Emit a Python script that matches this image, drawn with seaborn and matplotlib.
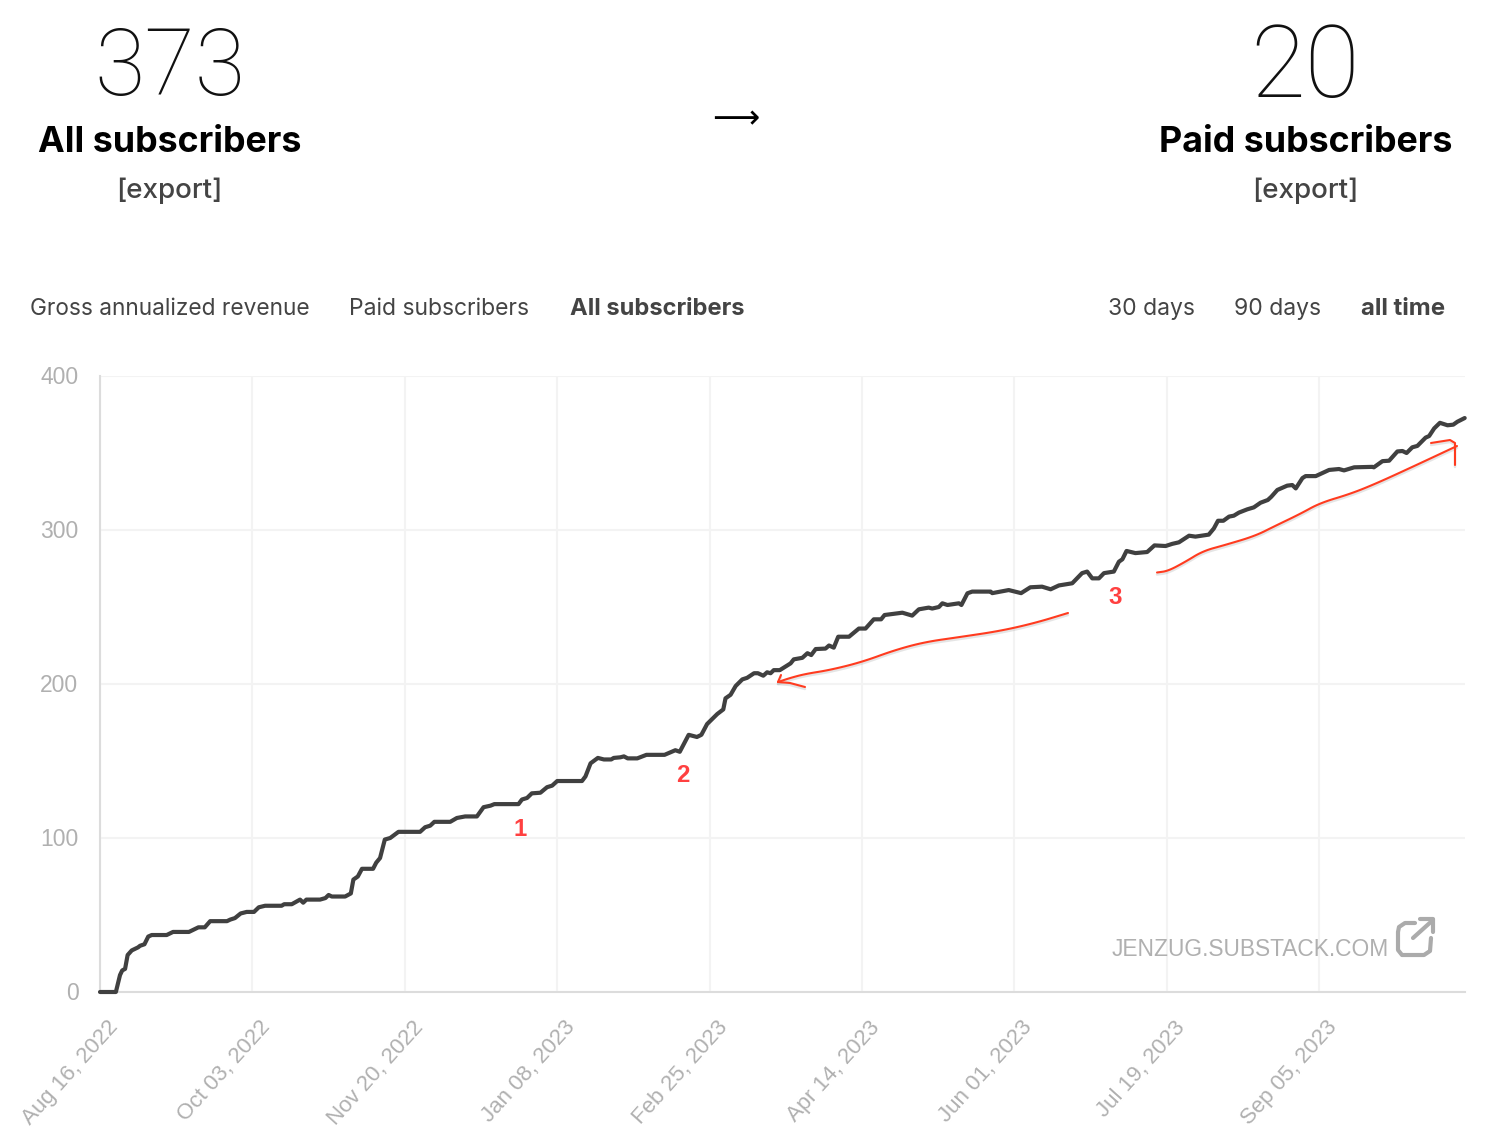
import numpy as np
import pandas as pd
import matplotlib
matplotlib.use("Agg")
import matplotlib.pyplot as plt
from matplotlib.transforms import ScaledTranslation
import seaborn as sns

days = [0,5,6.3,7,7.9,8.7,10,12,12.6,14,15.2,16.3,21,23,28,31,33,34.7,40,41,42.5,44.3,46.2,48.5,50,52,57.2,58,60.4,63,64,65,69.3,71,72,73,77.2,79,79.8,81.2,82.5,86,87,88.2,89.7,91.4,94,100.8,102.4,104,105.3,110.3,112.4,115,118.7,120.8,123,124.2,131.8,132.9,134.5,136,138.7,140.8,142.4,144,151.8,152.9,154.5,156.8,158.7,161,161.8,163.9,165,166.2,169.2,172.1,177.8,181.2,182.6,185.4,188,189.4,191.2,194.4,196.3,197,198.6,200.2,202.3,203.8,206,207.2,208.9,210.1,211.2,212.2,214.1,217.5,218.5,221.2,222.8,224,225.4,228.5,229.6,231.1,232.5,235.9,239,241.1,243.7,246,247.1,252.7,255.8,257.9,261,262.1,264.2,265.3,266.9,270.5,271.3,273.2,274.7,280.5,281,283.6,286.2,290.1,293,296.7,299.4,302,306.2,309.3,310.9,312.5,314.6,316.2,319.3,320.9,322,323.3,326.1,329.8,332.1,335.6,337.7,339.8,343,345,349.2,350.8,352.1,353.8,355.6,357.1,358.7,361.3,363.4,365.5,367.8,368.9,370.8,373.9,375.5,376.6,378.7,379.7,382.9,387.1,390.2,391.8,395,400.7,401.2,403.9,406,408.6,410.2,411.5,413.3,414.9,417.5,418.6,420.2,422,424.4,426.2,427.5,429.8]
subscribers = [0,0,11,14,15,24,27,29,30,31,36,37,37,39,39,42,42,46,46,47,48,51,52,52,55,56,56,57,57,60,58,60,60,61,63,62,62,64,73,75,80,80,84,87,99,100,104,104,107,108,110.5,110.5,113,114,114,120,121,122,122,125,126,129,129.4,133,134,137,137,140,148.5,152,151,151,152,152.4,153,151.7,151.7,154,154,157,156,167,165.6,167,174,180.5,183.5,190.7,193,198.7,203,204,207,207,205.4,207.6,207,209,209,213.4,216,217,220,218.8,222.7,223,225,223.6,230.7,230.7,236,236,242,242,244.8,246.3,244.4,248.5,249.6,249,250,252.4,251.3,252.4,251.3,258.9,260,260,259,260,261,259,262.8,263.2,261.5,264,265.4,272,273,268.6,268.6,272,273,279.4,281,286.4,285,285.7,290,289.6,291,292,296.3,295.7,297,301,306,306,308.7,309.3,311.3,313.4,314.7,317.7,319.5,321.6,326,328.8,329.2,327,333.7,335,335,339,339.6,338.7,340.7,341,340.7,344.7,345,351,351.3,350,353.7,354.6,360,361,366,369.6,368,368.4,370.3,372.7]
tick_days = [0,48,96,144,192,240,288,336,384]
tick_labels = ["Aug 16, 2022","Oct 03, 2022","Nov 20, 2022","Jan 08, 2023","Feb 25, 2023","Apr 14, 2023","Jun 01, 2023","Jul 19, 2023","Sep 05, 2023"]
y_ticks = [0,100,200,300,400]

W, H = 1506, 1136
sns.set_theme(style="whitegrid")
plt.rcParams["font.family"] = ["Liberation Sans", "DejaVu Sans"]
fig = plt.figure(figsize=(W/100, H/100), dpi=100, facecolor="white")
ax = fig.add_axes([100/W, 1-992/H, 1365/W, 616/H])
df = pd.DataFrame({"day": days, "subs": subscribers})
sns.lineplot(data=df, x="day", y="subs", ax=ax, color="#404040", linewidth=3.0, zorder=4, clip_on=False)
ax.set_xlim(0, 429.9); ax.set_ylim(0, 400)
ax.set_xlabel(""); ax.set_ylabel("")
ax.set_xticks(tick_days); ax.set_yticks(y_ticks)
ax.set_xticklabels(tick_labels, rotation=48, ha="right", rotation_mode="anchor")
ax.grid(True, color="#f3f3f3", linewidth=1.5)
ax.tick_params(axis="x", length=8, width=1.4, color="#f3f3f3", labelsize=16, labelcolor="#b0b0b0", pad=10)
ax.tick_params(axis="y", length=10, width=1.4, color="#f3f3f3", labelsize=16.5, labelcolor="#b0b0b0", pad=5.5)
shift = ScaledTranslation(7/100, 0, fig.dpi_scale_trans)
for lab in ax.get_xticklabels():
    lab.set_transform(lab.get_transform() + shift)
for lab in ax.get_yticklabels():
    lab.set_transform(lab.get_transform() + ScaledTranslation(0, 1/100, fig.dpi_scale_trans))
for s in ["top", "right"]:
    ax.spines[s].set_visible(False)
for s in ["left", "bottom"]:
    ax.spines[s].set_color("#dcdcdc"); ax.spines[s].set_linewidth(1.5)

ov = fig.add_axes([0, 0, 1, 1], facecolor="none")
ov.set_xlim(0, W); ov.set_ylim(H, 0); ov.axis("off")

def px(p): return p * 0.72

def smooth(pts, n=3):
    p = np.array(pts, float)
    for _ in range(n):
        q = [p[0]]
        for a, b in zip(p[:-1], p[1:]):
            q += [a*.75 + b*.25, a*.25 + b*.75]
        q.append(p[-1])
        p = np.array(q)
    return p

ov.text(169.5, 70, "373", ha="center", va="center", fontsize=px(92), family=["Roboto"], fontweight=100, color="#111111")
ov.text(1305.5, 70, "20", ha="center", va="center", fontsize=px(100), family=["Roboto"], fontweight=100, color="#111111")
ov.text(169.5, 143, "All subscribers", ha="center", va="center", fontsize=px(35.8), family=["Inter", "Roboto"], fontweight="bold", color="black")
ov.text(1305.5, 143, "Paid subscribers", ha="center", va="center", fontsize=px(35.8), family=["Inter", "Roboto"], fontweight="bold", color="black")
ov.text(169.5, 191, "[export]", ha="center", va="center", fontsize=px(27.8), family=["Inter", "Roboto"], fontweight=500, color="#444444")
ov.text(1305.5, 191, "[export]", ha="center", va="center", fontsize=px(27.8), family=["Inter", "Roboto"], fontweight=500, color="#444444")
ov.text(735.5, 119, "\u27f6", ha="center", va="center", fontsize=px(33), family=["DejaVu Sans"], color="black")

tabs = [(30, "Gross annualized revenue", "normal", 22.7), (349, "Paid subscribers", "normal", 22.9), (570, "All subscribers", "bold", 23.7),
        (1108, "30 days", "normal", 22.9), (1234, "90 days", "normal", 22.9), (1361, "all time", "bold", 24)]
for x, t, w, s in tabs:
    ov.text(x, 309, t, ha="left", va="center", fontsize=px(s), family=["Inter", "Roboto"], fontweight=w, color="#444444")

for x, y, t in [(520.5, 830, "1"), (683, 775, "2"), (1115, 597, "3")]:
    ov.text(x, y, t, ha="center", va="center", fontsize=px(24), family=["Liberation Sans"], fontweight="bold", color="#ff4040")

red1 = [(1068,613),(1035,623),(1000,631),(960,637),(925,642),(895,650),(862,662),(830,670),(805,674),(790,678),(778,682)]
red1b = [(805,687),(790,683),(778,682),(781,675)]
red2 = [(1157,572.5),(1168,571),(1185,562),(1203,551),(1225,545),(1255,536),(1275,526),(1300,514),(1320,503),(1350,494),(1375,484),(1410,468),(1457,446)]
red2b = [(1431,443),(1450,440),(1455,443),(1455,465)]
for pts in [red1, red1b, red2, red2b]:
    q = smooth(pts, 3) if len(pts) > 4 else np.array(pts, float)
    ov.plot(q[:,0], q[:,1]+2, color="#999999", alpha=0.25, lw=1.8, solid_capstyle="round", solid_joinstyle="round")
    ov.plot(q[:,0], q[:,1], color="#ff3b1f", lw=1.5, solid_capstyle="round", solid_joinstyle="round", zorder=5)

ov.text(1389, 949, "JENZUG.SUBSTACK.COM", ha="right", va="center", fontsize=px(22.7), family=["Liberation Sans"], color="#b0b0b0", zorder=6)
icon_box = [(1415,923),(1405,923),(1399,927),(1398,932),(1398,950),(1402,955),(1424,955),(1430,951),(1431,938)]
icon_arrow = [(1413,938),(1433,920)]
icon_head = [(1420,919),(1433,919),(1433,932)]
for pts in [icon_box, icon_arrow, icon_head]:
    xs, ys = zip(*pts)
    ov.plot(xs, ys, color="#ababab", lw=3, solid_capstyle="round", solid_joinstyle="round")

fig.savefig("out.png", dpi=100)
